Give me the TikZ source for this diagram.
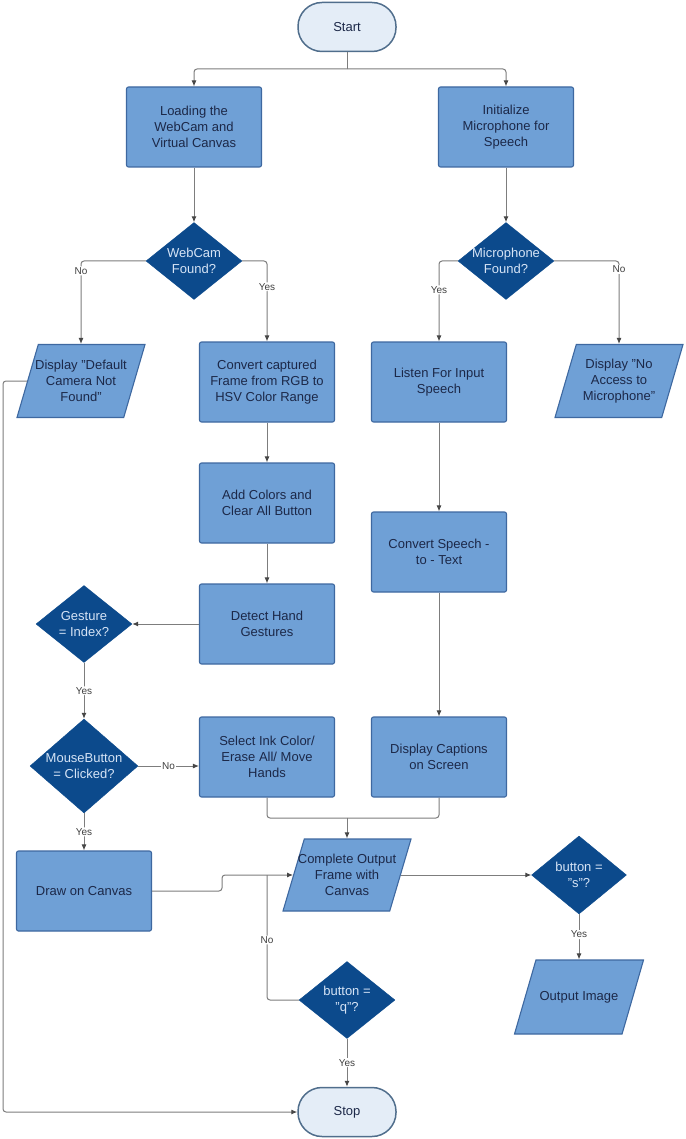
\documentclass[tikz,border=0pt]{standalone}
\usepackage{fontspec}
\setmainfont{Liberation Sans}
\usetikzlibrary{shapes.geometric,arrows.meta}
\definecolor{boxfill}{RGB}{111,160,214}
\definecolor{boxline}{RGB}{62,104,160}
\definecolor{decfill}{RGB}{12,74,140}
\definecolor{dectext}{RGB}{214,228,246}
\definecolor{termfill}{RGB}{228,237,247}
\definecolor{termline}{RGB}{80,110,140}
\definecolor{txt}{RGB}{28,40,72}
\definecolor{connc}{RGB}{125,125,125}
\definecolor{tipc}{RGB}{70,70,70}
\begin{document}
\begin{tikzpicture}[x=1pt,y=1pt,
 every node/.style={font=\fontsize{13}{16}\selectfont},
 proc/.style={rectangle, rounded corners=2pt, draw=boxline, line width=1.1pt, fill=boxfill, minimum width=135pt, minimum height=80pt, align=center, text=txt, inner sep=2pt},
 dec/.style={diamond, draw=decfill, fill=decfill, minimum width=96pt, minimum height=77pt, inner sep=1pt},
 dtxt/.style={text=dectext, align=center, font=\fontsize{13}{15.5}\selectfont},
 io/.style={trapezium, trapezium stretches=true, trapezium left angle=76, trapezium right angle=104, draw=boxline, line width=1.1pt, fill=boxfill, minimum width=128pt, minimum height=73pt, inner sep=2pt},
 iotxt/.style={text=txt, align=center},
 term/.style={rectangle, rounded corners=24pt, draw=termline, line width=1.5pt, fill=termfill, minimum width=98pt, minimum height=49pt, text=txt},
 conn/.style={draw=connc, line width=1pt, rounded corners=3pt},
 arr/.style={conn, -{Latex[length=6pt,width=5pt,color=tipc]}},
 lbl/.style={fill=white, inner sep=1pt, text=black!75, font=\fontsize{10}{12}\selectfont}
]
\fill[white] (0,0) rectangle (685,-1139);
\useasboundingbox (0,0) rectangle (685,-1139);

% nodes
\node[term] (start) at (347,-27) {Start};
\node[proc] (load) at (194,-127) {Loading the\\WebCam and\\Virtual Canvas};
\node[proc] (mic) at (506,-127) {Initialize\\Microphone for\\Speech};
\node[dec, label={[dtxt]center:{WebCam\\Found?}}] (wc) at (194,-261) {};
\node[dec, label={[dtxt]center:{Microphone\\Found?}}] (md) at (506,-261) {};
\node[io, label={[iotxt]center:{Display "Default\\Camera Not\\Found"}}] (defcam) at (81,-381) {};
\node[proc] (conv) at (267,-382) {Convert captured\\Frame from RGB to\\HSV Color Range};
\node[proc] (listen) at (439,-382) {Listen For Input\\Speech};
\node[io, label={[iotxt]center:{Display "No\\Access to\\Microphone"}}] (noacc) at (619,-381) {};
\node[proc] (addcol) at (267,-503) {Add Colors and\\Clear All Button};
\node[proc] (convsp) at (439,-552) {Convert Speech -\\to - Text};
\node[proc] (detect) at (267,-624) {Detect Hand\\Gestures};
\node[dec, label={[dtxt]center:{Gesture\\= Index?}}] (gest) at (84,-624) {};
\node[dec, minimum width=108pt, minimum height=94pt, label={[dtxt]center:{MouseButton\\= Clicked?}}] (mouse) at (84,-766) {};
\node[proc] (select) at (267,-757) {Select Ink Color/\\Erase All/ Move\\Hands};
\node[proc] (captions) at (439,-757) {Display Captions\\on Screen};
\node[proc] (draw) at (84,-891) {Draw on Canvas};
\node[io, minimum height=72pt, label={[iotxt]center:{Complete Output\\Frame with\\Canvas}}] (complete) at (347,-875) {};
\node[dec, minimum width=95pt, minimum height=78pt, label={[dtxt]center:{button =\\"s"?}}] (sdia) at (579,-875) {};
\node[io, minimum width=129pt, minimum height=74pt, label={[iotxt]center:{Output Image}}] (output) at (579,-997) {};
\node[dec, label={[dtxt]center:{button =\\"q"?}}] (q) at (347,-1000) {};
\node[term] (stop) at (347,-1112) {Stop};

% connectors
\coordinate (j1) at (347,-69);
\draw[conn] (start.south) -- (j1);
\draw[arr] (j1) -| (load.north);
\draw[arr] (j1) -| (mic.north);
\draw[arr] (load.south) -- (wc.north);
\draw[arr] (mic.south) -- (md.north);
\draw[arr] (wc.west) -| node[lbl,pos=0.56]{No} (defcam.center |- defcam.north);
\draw[arr] (wc.east) -| node[lbl,pos=0.66]{Yes} (conv.north);
\draw[arr] (md.west) -| node[lbl,pos=0.68]{Yes} (listen.north);
\draw[arr] (md.east) -| node[lbl,pos=0.55]{No} (noacc.center |- noacc.north);
\draw[arr] (conv.south) -- (addcol.north);
\draw[arr] (addcol.south) -- (detect.north);
\draw[arr] (detect.west) -- (gest.east);
\draw[arr] (gest.south) -- node[lbl]{Yes} (mouse.north);
\draw[arr] (mouse.east) -- node[lbl]{No} (mouse.east -| select.west);
\draw[arr] (mouse.south) -- node[lbl]{Yes} (draw.north);
\draw[arr] (listen.south) -- (convsp.north);
\draw[arr] (convsp.south) -- (captions.north);
\coordinate (j2) at (347,-818);
\draw[conn] (select.south) |- (j2);
\draw[conn] (captions.south) |- (j2);
\draw[arr] (j2) -- (complete.center |- complete.north);
\coordinate (j3) at (222,-875);
\draw[arr] (draw.east) -| (j3) -- (complete.west);
\coordinate (j4) at (267,-875);
\draw[conn] (q.west) -| node[lbl,pos=0.74]{No} (j4);
\draw[arr] (complete.east) -- (sdia.west);
\draw[arr] (sdia.south) -- node[lbl,pos=0.45]{Yes} (output.center |- output.north);
\draw[arr] (q.south) -- node[lbl]{Yes} (stop.north);
\coordinate (j5) at (3,-1112);
\draw[arr] (defcam.west) -| (j5) -- (stop.west);
\end{tikzpicture}
\end{document}
